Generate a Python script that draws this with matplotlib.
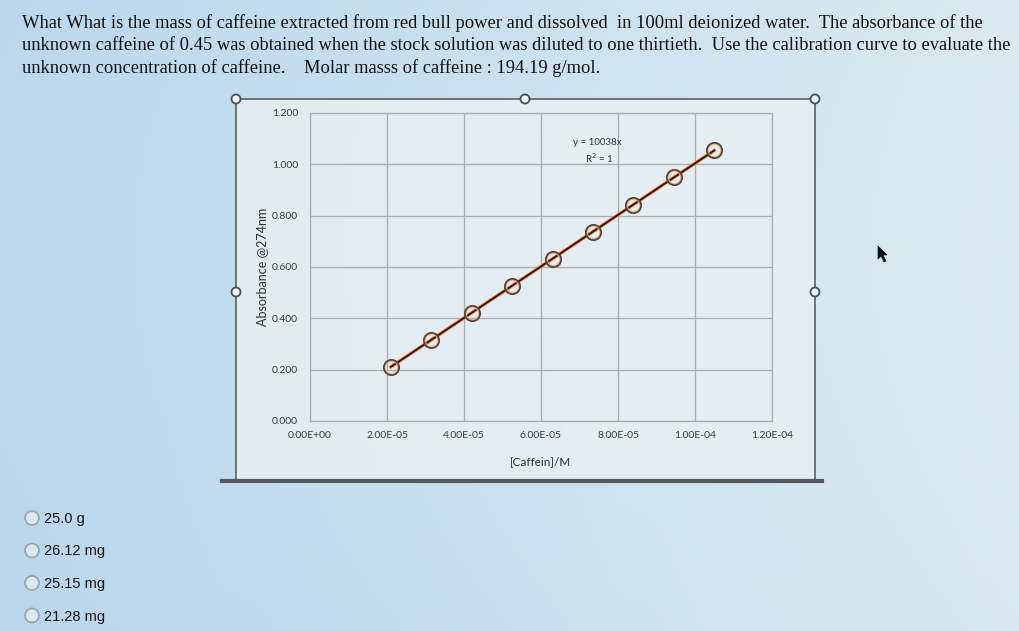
import numpy as np
import matplotlib.pyplot as plt
from matplotlib.patches import Circle, Rectangle, Polygon

# question text and answer choices
question_lines = [
    "What What is the mass of caffeine extracted from red bull power and dissolved  in 100ml deionized water.  The absorbance of the",
    "unknown caffeine of 0.45 was obtained when the stock solution was diluted to one thirtieth.  Use the calibration curve to evaluate the",
    "unknown concentration of caffeine.    Molar masss of caffeine : 194.19 g/mol.",
]
options = ["25.0 g", "26.12 mg", "25.15 mg", "21.28 mg"]

# calibration data
conc = [2.10e-5, 3.15e-5, 4.20e-5, 5.25e-5, 6.30e-5, 7.35e-5, 8.40e-5, 9.45e-5, 1.05e-4]
absorb = [0.211, 0.316, 0.422, 0.527, 0.632, 0.738, 0.843, 0.949, 1.054]
slope = 10038

x_ticks = [0, 2e-5, 4e-5, 6e-5, 8e-5, 1e-4, 1.2e-4]
x_ticklabels = ["0.00E+00", "2.00E-05", "4.00E-05", "6.00E-05", "8.00E-05", "1.00E-04", "1.20E-04"]
y_ticks = [0, 0.2, 0.4, 0.6, 0.8, 1.0, 1.2]
y_ticklabels = ["0.000", "0.200", "0.400", "0.600", "0.800", "1.000", "1.200"]

W, H = 1020, 631
fig = plt.figure(figsize=(W / 100, H / 100), dpi=100)

# background (photo of a screen: light blue gradient), pixel coordinates
bg = fig.add_axes([0, 0, 1, 1])
gx, gy = np.meshgrid(np.linspace(0, 1, 200), np.linspace(0, 1, 120))
left_c = np.array([0.74, 0.85, 0.93])
right_c = np.array([0.86, 0.92, 0.95])
grad = left_c * (1 - gx[..., None]) + right_c * gx[..., None]
grad = grad - 0.03 * (gy[..., None] - 0.4) ** 2
bg.imshow(np.clip(grad, 0, 1), extent=(0, W, H, 0), aspect="auto", interpolation="bilinear")
bg.set_xlim(0, W)
bg.set_ylim(H, 0)
bg.axis("off")

# chart object frame with selection handles
bg.add_patch(Rectangle((236, 99), 579, 381, facecolor="#e9f0f3", edgecolor="none", alpha=0.8))
bg.plot([236, 815], [99, 99], color="#5a5f63", lw=1.2)
bg.plot([236, 236], [99, 480], color="#5a5f63", lw=1.2)
bg.plot([815, 815], [99, 480], color="#5a5f63", lw=1.2)
bg.plot([222, 822], [481, 481], color="#555a5e", lw=3)
for hx, hy in [(236, 99), (525, 99), (815, 99), (236, 292), (815, 292)]:
    bg.add_patch(Circle((hx, hy), 4.5, facecolor="#eef3f6", edgecolor="#4a4f53", lw=1.3, zorder=5))

# question text
for i, line in enumerate(question_lines):
    bg.text(22, 23 + i * 22.5, line, family="Liberation Serif", fontsize=13.3,
            color="#111111", va="center", ha="left")

# answer options
for i, opt in enumerate(options):
    yy = 518 + i * 32.5
    bg.add_patch(Circle((32, yy), 7, facecolor="#dbe8f0", edgecolor="#9aa6ad", lw=1.3))
    bg.text(44, yy + 1, opt, family="Liberation Sans", fontsize=10.5, color="#151515",
            va="center", ha="left")

# mouse cursor
bg.add_patch(Polygon([(878, 246), (878, 259), (881, 256), (884, 262), (886, 261),
                      (883, 255), (887, 255)], closed=True, facecolor="#111111",
                     edgecolor="#111111", lw=0.5))

# the calibration chart
ax = fig.add_axes([310 / W, 1 - 421 / H, 462 / W, 308 / H])
ax.set_facecolor("none")
ax.plot(conc, absorb, color="#e47a3c", lw=2.4, zorder=3)
xt = np.array([conc[0], conc[-1]])
ax.plot(xt, slope * xt, color="#2b140a", lw=1.2, zorder=4)
ax.plot(conc, absorb, ls="none", marker="o", ms=9, mfc="none", mec="#eab08a", mew=0.8, zorder=5)
ax.plot(conc, absorb, ls="none", marker="o", ms=11, mfc="none", mec="#5a4334", mew=1.3, zorder=6)

ax.set_xlim(0, 1.2e-4)
ax.set_ylim(0, 1.2)
ax.set_xticks(x_ticks)
ax.set_xticklabels(x_ticklabels)
ax.set_yticks(y_ticks)
ax.set_yticklabels(y_ticklabels)
ax.grid(True, color="#a9adb0", lw=0.9)
ax.set_axisbelow(True)
for s in ax.spines.values():
    s.set_color("#a9adb0")
    s.set_linewidth(0.9)
ax.tick_params(length=0, labelsize=7.5, colors="#3a3a3a")
ax.tick_params(axis="y", pad=8.5)
ax.tick_params(axis="x", pad=7)
for lab in ax.get_xticklabels() + ax.get_yticklabels():
    lab.set_family("Lato")
ax.set_xlabel("[Caffein]/M", family="Lato", fontsize=8.5, color="#2f2f2f", labelpad=12)
ax.set_ylabel("Absorbance @274nm", family="Lato", fontsize=9, color="#2f2f2f", labelpad=3)

ax.text(0.621, 0.905, "y = 10038x", transform=ax.transAxes, family="Lato",
        fontsize=7, color="#333333", ha="center", va="center")
ax.text(0.627, 0.855, "R$^2$ = 1", transform=ax.transAxes, family="Lato",
        fontsize=7, color="#333333", ha="center", va="center")

fig.savefig("out.png", dpi=100)
